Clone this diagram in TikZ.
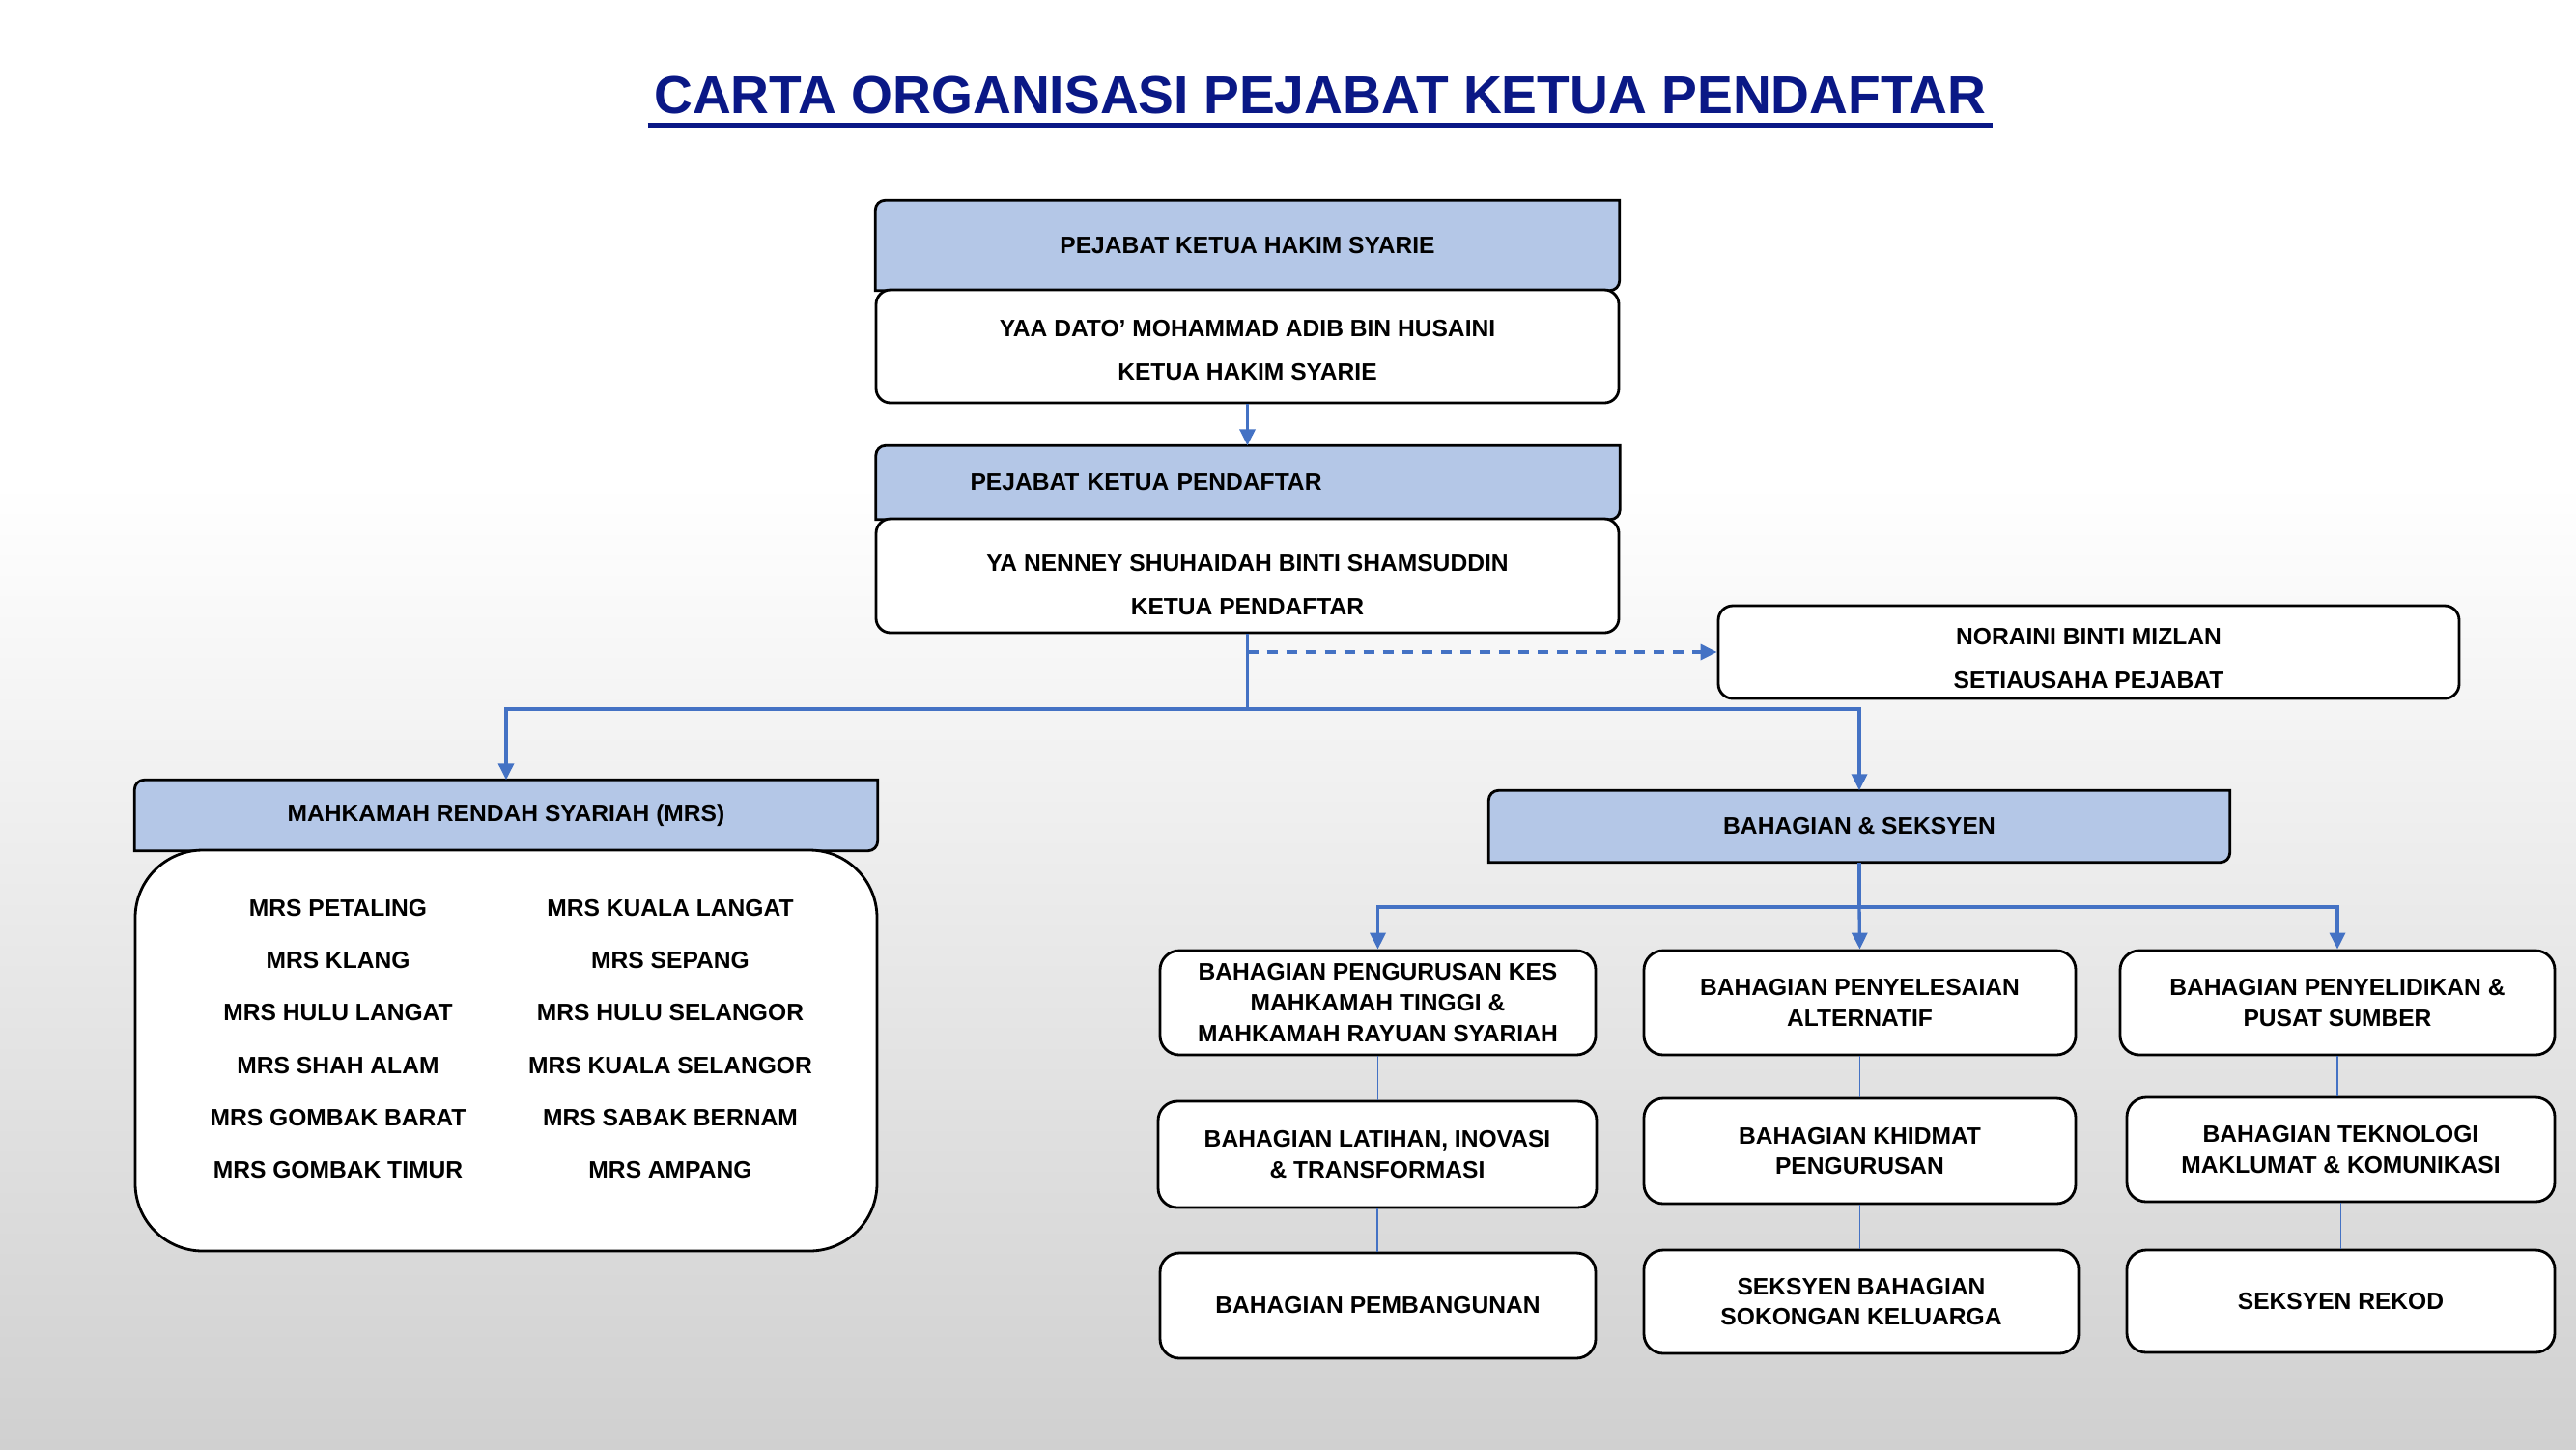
\documentclass[tikz,border=0pt]{standalone}
\usepackage{fontspec}
\setmainfont{Liberation Sans}
\usetikzlibrary{arrows.meta,backgrounds}
\definecolor{hdrblue}{RGB}{180,199,231}
\definecolor{linkblue}{RGB}{68,114,196}
\definecolor{titleblue}{RGB}{10,24,134}
\definecolor{bggray}{RGB}{208,208,208}
\newcommand{\ttlfont}{\fontsize{15.7}{18}\selectfont\bfseries}
\newcommand{\nmfont}{\fontsize{7}{12.8}\selectfont\bfseries}
\newcommand{\bxfont}{\fontsize{7}{9}\selectfont\bfseries}
% header frame: round top-left and bottom-right corners only
\newcommand{\hdrframe}[1]{%
  \filldraw[hdrline] (#1.north east) -- ([yshift=1mm]#1.south east)
    arc[start angle=0,end angle=-90,radius=1mm] -- (#1.south west)
    -- ([yshift=-1mm]#1.north west) arc[start angle=180,end angle=90,radius=1mm] -- cycle;}
\begin{document}
\begin{tikzpicture}[
    >={Triangle[length=0.17cm,width=0.16cm]},
    hdrbox/.style={inner sep=0pt,font=\bxfont},
    hdrline/.style={draw=black,line width=0.8pt,fill=hdrblue},
    namebox/.style={draw,fill=white,line width=0.8pt,rounded corners=0.15cm,align=center,font=\nmfont,inner sep=0pt,text height=21.5pt},
    unitbox/.style={draw,fill=white,line width=0.8pt,rounded corners=0.2cm,align=center,font=\bxfont,inner sep=0pt},
    item/.style={font=\bxfont,inner sep=0pt},
    conn/.style={draw=linkblue,line width=0.95pt},
    link/.style={draw=linkblue,line width=0.35pt},
    dashpat/.style={dash pattern=on 3.2pt off 2.5pt}]
	\useasboundingbox (0,0) rectangle (26.67,-15);
	\node (title) [font=\ttlfont,text=titleblue,inner sep=0pt,anchor=base] at (13.67,-1.17) {CARTA ORGANISASI PEJABAT KETUA PENDAFTAR};
	\draw [titleblue,line width=1.3pt] ([xshift=-0.6mm,yshift=-3.5pt]title.base west) -- ([xshift=0.6mm,yshift=-3.5pt]title.base east);

	\node (hkhs) [hdrbox,minimum width=7.69cm,minimum height=0.92cm] at (12.915,-2.54) {PEJABAT KETUA HAKIM SYARIE};
	\node (nkhs) [namebox,minimum width=7.69cm,minimum height=1.17cm,text height=20.2pt] at (12.915,-3.585) {YAA DATO’ MOHAMMAD ADIB BIN HUSAINI\\KETUA HAKIM SYARIE};
	\node (hkp) [hdrbox,minimum height=0.75cm,text width=5.75cm,inner xsep=0.97cm,align=left] at (12.92,-4.995) {PEJABAT KETUA PENDAFTAR};
	\node (nkp) [namebox,minimum width=7.69cm,minimum height=1.18cm,text height=23pt] at (12.915,-5.96) {YA NENNEY SHUHAIDAH BINTI SHAMSUDDIN\\KETUA PENDAFTAR};
	\node (nsp) [namebox,minimum width=7.67cm,minimum height=0.96cm] at (21.625,-6.75) {NORAINI BINTI MIZLAN\\SETIAUSAHA PEJABAT};

	\node (hmrs) [hdrbox,minimum width=7.68cm,minimum height=0.72cm] at (5.24,-8.44) {MAHKAMAH RENDAH SYARIAH (MRS)};
	\node (mrs) [namebox,rounded corners=0.7cm,minimum width=7.68cm,minimum height=4.15cm] at (5.24,-10.875) {};
	\node (mrs1) [item] at (3.50,-9.40) {MRS PETALING};
	\node (mrs2) [item] at (3.50,-9.94) {MRS KLANG};
	\node (mrs3) [item] at (3.50,-10.485) {MRS HULU LANGAT};
	\node (mrs4) [item] at (3.50,-11.03) {MRS SHAH ALAM};
	\node (mrs5) [item] at (3.50,-11.57) {MRS GOMBAK BARAT};
	\node (mrs6) [item] at (3.50,-12.11) {MRS GOMBAK TIMUR};
	\node (mrs7) [item] at (6.94,-9.40) {MRS KUALA LANGAT};
	\node (mrs8) [item] at (6.94,-9.94) {MRS SEPANG};
	\node (mrs9) [item] at (6.94,-10.485) {MRS HULU SELANGOR};
	\node (mrs10) [item] at (6.94,-11.03) {MRS KUALA SELANGOR};
	\node (mrs11) [item] at (6.94,-11.57) {MRS SABAK BERNAM};
	\node (mrs12) [item] at (6.94,-12.11) {MRS AMPANG};

	\node (hbs) [hdrbox,minimum width=7.66cm,minimum height=0.73cm] at (19.25,-8.555) {BAHAGIAN \& SEKSYEN};
	\node (ba1) [unitbox,minimum width=4.51cm,minimum height=1.08cm] at (14.265,-10.38) {BAHAGIAN PENGURUSAN KES\\MAHKAMAH TINGGI \&\\MAHKAMAH RAYUAN SYARIAH};
	\node (bb1) [unitbox,minimum width=4.47cm,minimum height=1.08cm] at (19.255,-10.38) {BAHAGIAN PENYELESAIAN\\ALTERNATIF};
	\node (bc1) [unitbox,minimum width=4.50cm,minimum height=1.08cm] at (24.20,-10.38) {BAHAGIAN PENYELIDIKAN \&\\PUSAT SUMBER};
	\node (ba2) [unitbox,minimum width=4.54cm,minimum height=1.10cm] at (14.26,-11.95) {BAHAGIAN LATIHAN, INOVASI\\\& TRANSFORMASI};
	\node (bb2) [unitbox,minimum width=4.47cm,minimum height=1.09cm] at (19.255,-11.915) {BAHAGIAN KHIDMAT\\PENGURUSAN};
	\node (bc2) [unitbox,minimum width=4.43cm,minimum height=1.08cm] at (24.235,-11.90) {BAHAGIAN TEKNOLOGI\\MAKLUMAT \& KOMUNIKASI};
	\node (ba3) [unitbox,minimum width=4.51cm,minimum height=1.09cm] at (14.265,-13.515) {BAHAGIAN PEMBANGUNAN};
	\node (bb3) [unitbox,minimum width=4.50cm,minimum height=1.07cm] at (19.27,-13.475) {SEKSYEN BAHAGIAN\\SOKONGAN KELUARGA};
	\node (bc3) [unitbox,minimum width=4.43cm,minimum height=1.06cm] at (24.235,-13.47) {SEKSYEN REKOD};

	\coordinate (split) at (12.915,-7.34);
	\coordinate (bsplit) at (19.25,-9.39);
	\draw [conn,->] (nkhs.south) -- (nkhs.south |- hkp.north);
	\draw [conn] (nkp.south) -- (split);
	\draw [conn,dashpat,->] (nkp.south |- nsp.west) -- (nsp.west);
	\draw [conn,->] (split) -| (hmrs.north);
	\draw [conn,->] (split) -| (hbs.north);
	\draw [conn] (hbs.south) -- (bsplit);
	\draw [conn,->] (bsplit) -| (ba1.north);
	\draw [conn,->] (bsplit) -- (bb1.north);
	\draw [conn,->] (bsplit) -| (bc1.north);
	\draw [link] (ba1.south) -- (ba1.south |- ba2.north);
	\draw [link] (bb1.south) -- (bb1.south |- bb2.north);
	\draw [link] (bc1.south) -- (bc1.south |- bc2.north);
	\draw [link] (ba2.south) -- (ba2.south |- ba3.north);
	\draw [link] (bb2.south) -- (bb2.south |- bb3.north);
	\draw [link] (bc2.south) -- (bc2.south |- bc3.north);

	\begin{scope}[on background layer]
		\fill [white] (0,0) rectangle (26.67,-5);
		\shade [top color=white,bottom color=bggray] (0,-5) rectangle (26.67,-15);
		\hdrframe{hkhs}
		\hdrframe{hkp}
		\hdrframe{hmrs}
		\hdrframe{hbs}
	\end{scope}
\end{tikzpicture}
\end{document}
